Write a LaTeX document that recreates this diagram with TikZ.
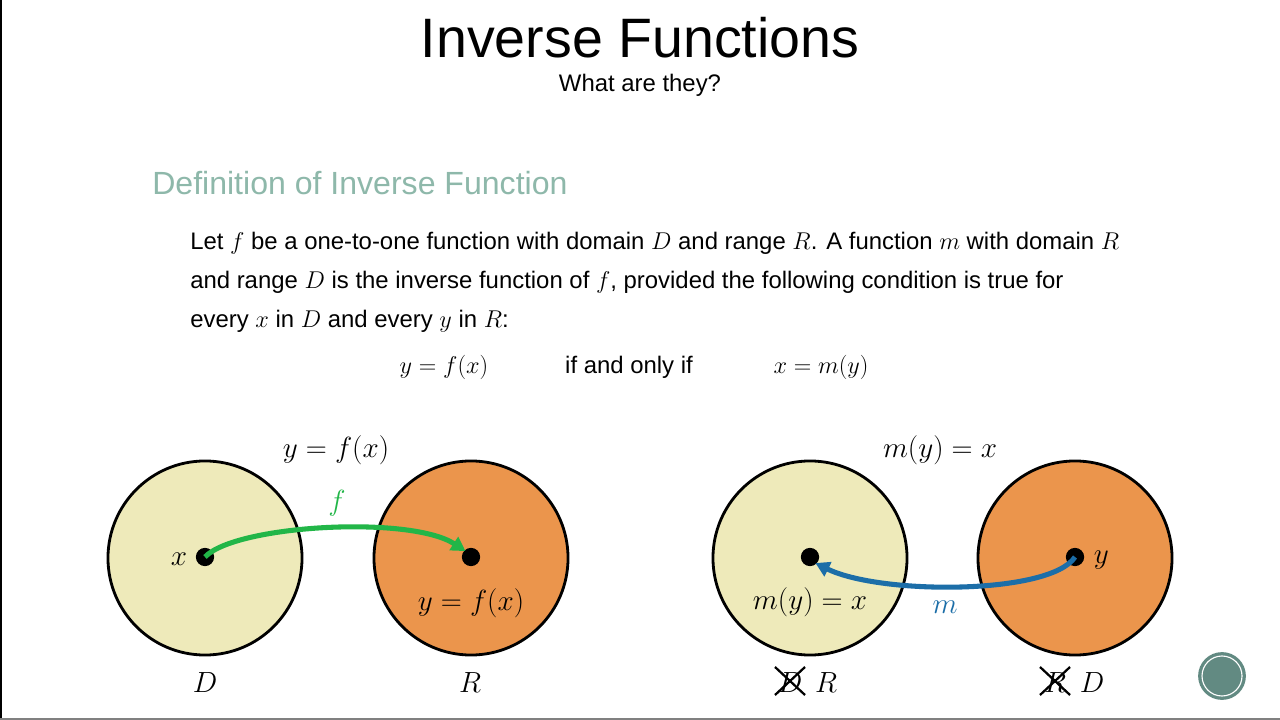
\documentclass[tikz,border=0pt]{standalone}
\usepackage{fontspec}
\setmainfont{Liberation Sans}
\usetikzlibrary{arrows.meta}
\definecolor{headteal}{RGB}{142,184,170}
\definecolor{domyellow}{RGB}{238,234,186}
\definecolor{rngorange}{RGB}{235,149,76}
\definecolor{fgreen}{RGB}{34,182,72}
\definecolor{mblue}{RGB}{28,110,168}
\definecolor{btnteal}{RGB}{98,138,130}

\begin{document}
\begin{tikzpicture}[x=0.025cm, y=-0.025cm,
    disk/.style={circle, draw=black, line width=2pt, minimum size=138pt, inner sep=0pt},
    dot/.style={circle, fill=black, minimum size=13pt, inner sep=0pt},
    body/.style={font=\fontsize{17}{20}\selectfont, inner sep=0pt},
    mlabel/.style={font=\fontsize{19.5}{22}\selectfont},
    maparrow/.style={line width=3.6pt, -{Triangle[length=10pt,width=11pt]}, shorten >=-1pt}]
    \useasboundingbox (0,0) rectangle (1280,720);
    \fill[white] (0,0) rectangle (1280,720);
    \draw[black, line width=1.5pt] (0.5,0) -- (0.5,720);
    \draw[gray, line width=1.5pt] (0,719) -- (1280,719);

    % heading
    \node[font=\fontsize{39.5}{46}\selectfont] (title) at (640,38) {Inverse Functions};
    \node[font=\fontsize{17}{20}\selectfont] (subtitle) at (640,85) {What are they?};
    \node[anchor=west, font=\fontsize{22.8}{26}\selectfont, text=headteal, inner sep=0pt] (defhead) at (152,183) {Definition of Inverse Function};

    % definition text
    \node[body, anchor=base west] (line1) at (190,250) {Let $f$ be a one-to-one function with domain $D$ and range $R$. A function $m$ with domain $R$};
    \node[body, anchor=base west] (line2) at (190,289) {and range $D$ is the inverse function of $f$, provided the following condition is true for};
    \node[body, anchor=base west] (line3) at (190,328) {every $x$ in $D$ and every $y$ in $R$:};
    \node[body, anchor=base, font=\fontsize{18}{20}\selectfont] (eqf) at (444,374) {$y=f(x)$};
    \node[body, anchor=base] (iff) at (629,374) {if and only if};
    \node[body, anchor=base, font=\fontsize{18}{20}\selectfont] (eqm) at (821,374) {$x=m(y)$};

    % f : D -> R
    \node[disk, fill=domyellow] (domL) at (205,558) {};
    \node[disk, fill=rngorange] (rngL) at (471,558) {};
    \node[dot] (xpt) at (205,557) {};
    \node[dot] (fxpt) at (471,557) {};
    \node[mlabel, anchor=east] (xlab) at (192,559) {$x$};
    \node[mlabel] (fxlab) at (471,603) {$y=f(x)$};
    \node[mlabel] (fhead) at (336,450) {$y=f(x)$};
    \node[mlabel, anchor=base] (Dlab) at (205,692) {$D$};
    \node[mlabel, anchor=base] (Rlab) at (470,692) {$R$};
    \draw[maparrow, fgreen] (xpt.center) .. controls (235,525) and (410,515) .. (fxpt.north west);
    \node[mlabel, text=fgreen] (flab) at (337,503) {$f$};

    % m : R -> D
    \node[disk, fill=domyellow] (domR) at (810,558) {};
    \node[disk, fill=rngorange] (rngR) at (1075,558) {};
    \node[dot] (mypt) at (810,557) {};
    \node[dot] (ypt) at (1075,557) {};
    \node[mlabel, anchor=west] (ylab) at (1089,560) {$y$};
    \node[mlabel] (mylab) at (810,602) {$m(y)=x$};
    \node[mlabel] (mhead) at (940,450) {$m(y)=x$};
    \draw[maparrow, mblue] (ypt.center) .. controls (1050,595) and (880,595) .. (mypt.south east);
    \node[mlabel, text=mblue] (mlab) at (945,607) {$m$};

    \node[mlabel, anchor=base] (oldD) at (790,692) {$D$};
    \node[mlabel, anchor=base] (newR) at (826,692) {$R$};
    \draw[line width=1.6pt] (775,667) -- (805,695) (775,695) -- (805,667);
    \node[mlabel, anchor=base] (oldR) at (1055,692) {$R$};
    \node[mlabel, anchor=base] (newD) at (1092,692) {$D$};
    \draw[line width=1.6pt] (1040,667) -- (1070,695) (1040,695) -- (1070,667);

    % slide button
    \node[circle, fill=btnteal, minimum size=34pt, inner sep=0pt] (btn) at (1222,676) {};
    \draw[white, line width=0.8pt] (btn.center) circle[radius=20];
\end{tikzpicture}
\end{document}
